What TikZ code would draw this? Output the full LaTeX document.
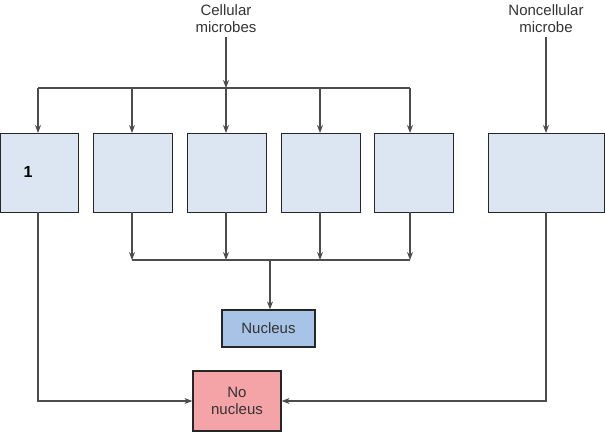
\documentclass[tikz,border=0pt]{standalone}
\usepackage{fontspec}
\setmainfont{Liberation Sans}
\usetikzlibrary{arrows.meta}
\definecolor{boxblue}{HTML}{DCE6F2}
\definecolor{nucblue}{HTML}{A7C3E6}
\definecolor{nonuc}{HTML}{F4A3A6}
\begin{document}
\begin{tikzpicture}[x=1pt,y=-1pt,
  box/.style={draw=black!85,line width=1.2pt,fill=boxblue,minimum height=79pt,anchor=north west,inner sep=0pt},
  lbl/.style={font=\fontsize{15}{17}\selectfont,align=center,text=black!80},
  arr/.style={draw=black!70,line width=1.1pt,-{Stealth[length=8pt,width=6pt]}},
  ln/.style={draw=black!70,line width=1.1pt}]
\useasboundingbox (0,0) rectangle (605,434);
\node[box,minimum width=78pt] (b1) at (0,133) {};
\node[box,minimum width=79pt] (b2) at (93,133) {};
\node[box,minimum width=79pt] (b3) at (187,133) {};
\node[box,minimum width=79pt] (b4) at (281,133) {};
\node[box,minimum width=79pt] (b5) at (374,133) {};
\node[box,minimum width=116pt] (b6) at (488,133) {};
\node[font=\bfseries\fontsize{16}{16}\selectfont] (one) at (28,172) {1};
\node[lbl] (cell) at (226,19) {Cellular\\microbes};
\node[lbl] (noncell) at (546,19) {Noncellular\\microbe};
\node[draw=black!85,line width=1.2pt,fill=nucblue,minimum width=93pt,minimum height=37pt,lbl] (nuc) at (268.5,328.5) {Nucleus};
\node[draw=black!85,line width=1.2pt,fill=nonuc,minimum width=88pt,minimum height=60pt,lbl] (nonuc) at (237,401) {No\\nucleus};
\coordinate (tl) at (38,88); \coordinate (tr) at (410,88);
\draw[ln] (tl) -- (tr);
\draw[arr] (cell.south) -- (cell.south |- tl);
\foreach \n/\x in {b1/38,b2/132,b3/226,b4/320,b5/410}
  \draw[arr] (\x,88) -- (\x,133);
\draw[arr] (noncell.south) -- (noncell.south |- b6.north);
\draw[ln] (132,260) -- (410,260);
\foreach \x in {132,226,320,410}
  \draw[arr] (\x,212) -- (\x,260);
\draw[arr] (270,260) -- (nuc.north -| 270,0);
\draw[arr] (38,212) |- (nonuc.west);
\draw[arr] (546,212) |- (nonuc.east);
\end{tikzpicture}
\end{document}
